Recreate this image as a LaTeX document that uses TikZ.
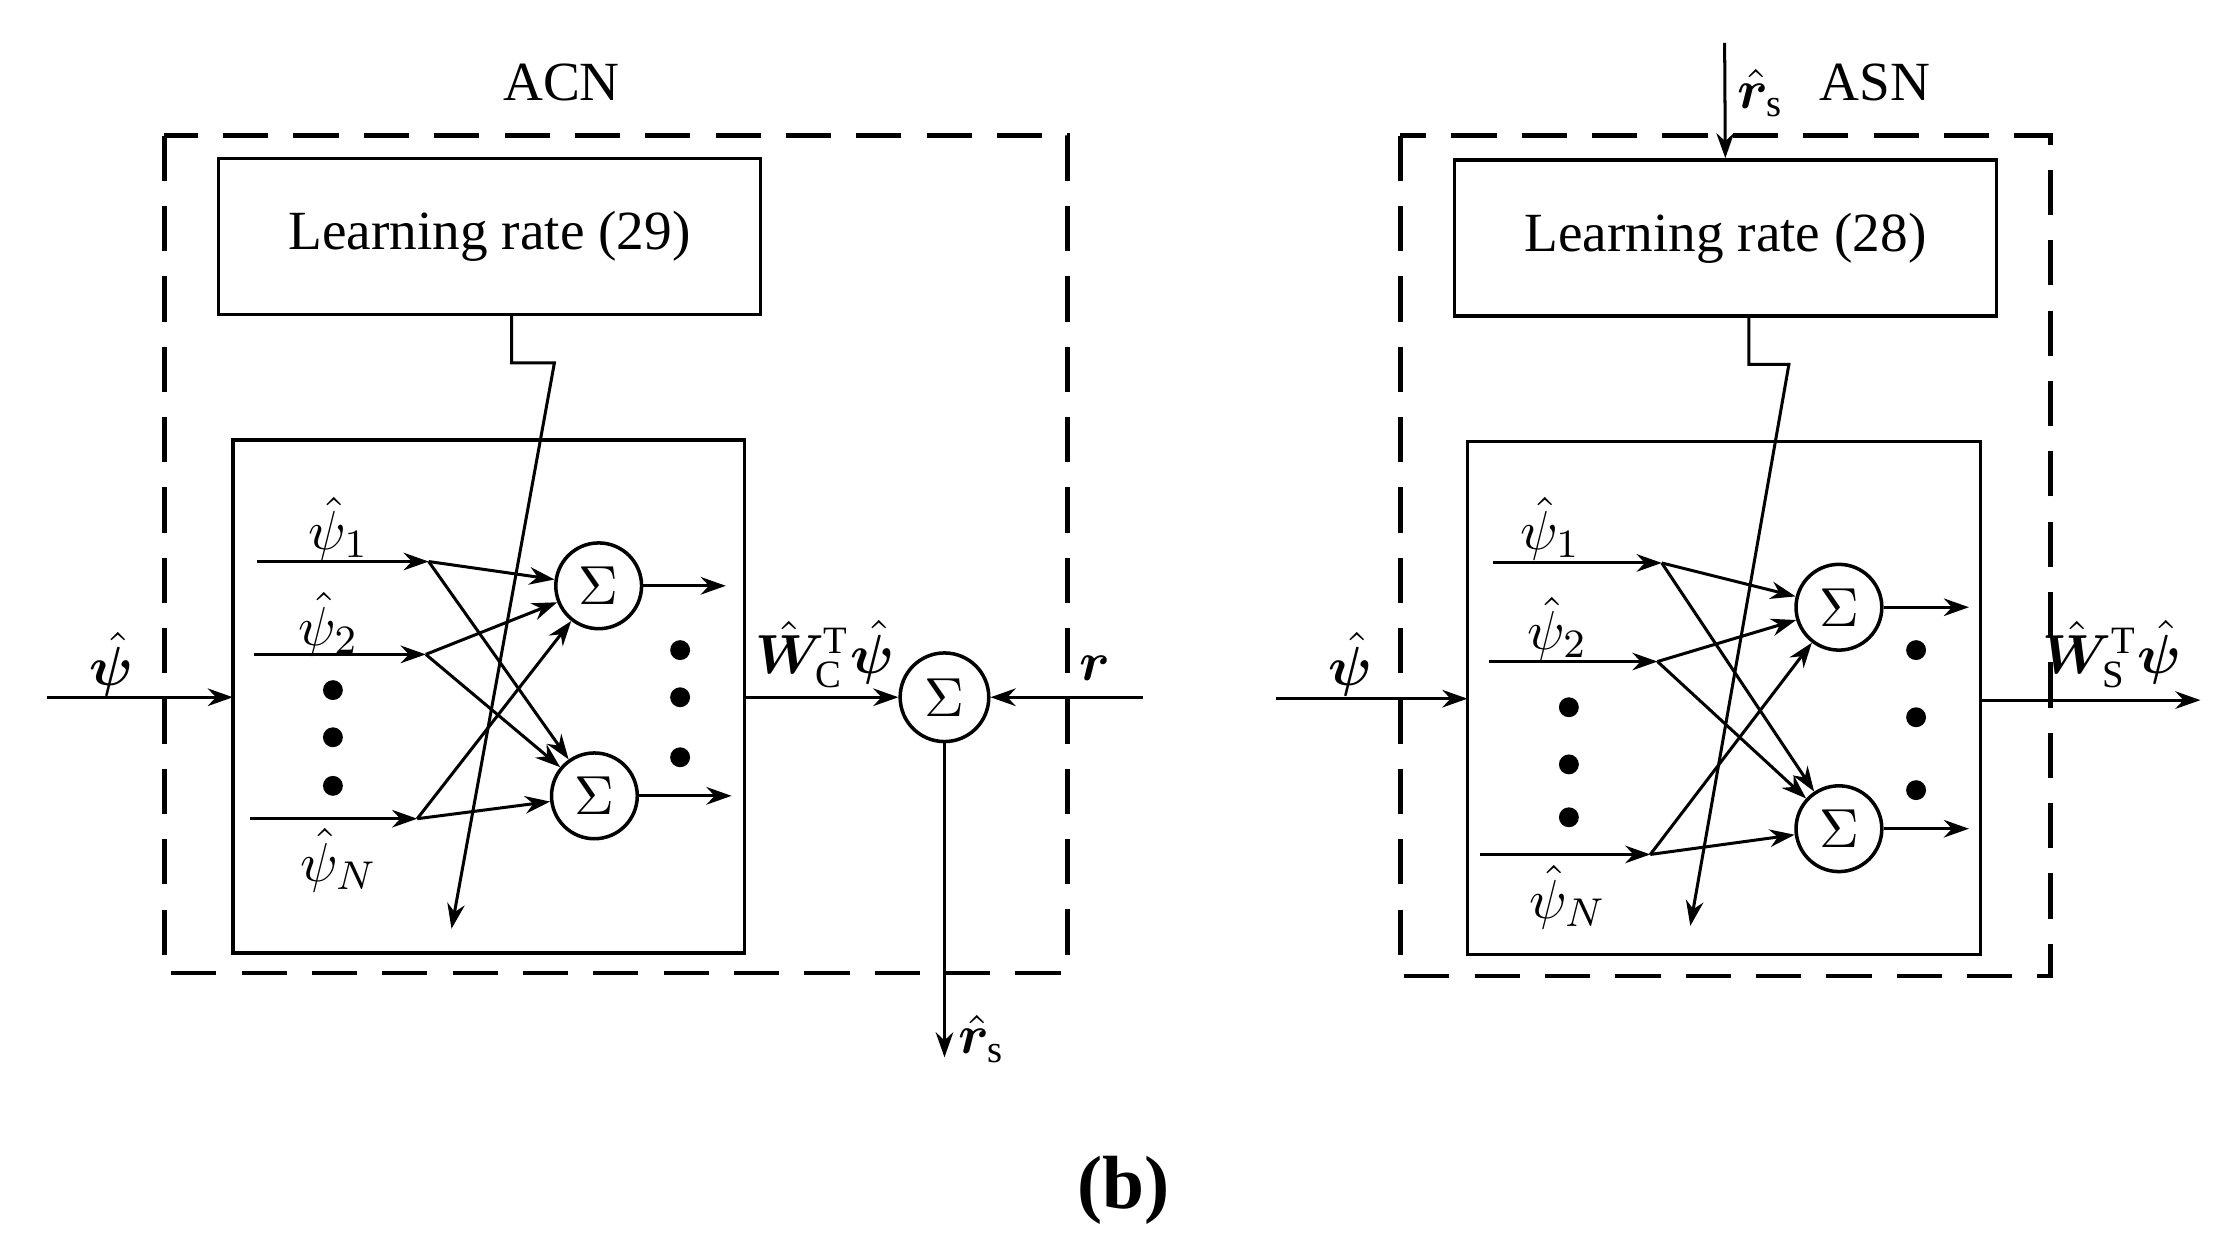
\documentclass[tikz,border=0pt]{standalone}
\usepackage{amsmath,bm}
\usepackage{fontspec}
\setmainfont{Liberation Serif}
\usetikzlibrary{arrows.meta}
\begin{document}
\begin{tikzpicture}[x=0.01cm,y=-0.01cm,font=\fontsize{11}{13}\selectfont,
 arr/.style={-{Stealth[length=5pt,width=3.5pt]},line width=0.6pt},
 ln/.style={line width=0.6pt},
 dbox/.style={line width=0.9pt,dash pattern=on 9pt off 5pt},
 box/.style={draw,line width=0.7pt},
 sig/.style={draw,circle,minimum size=0.6cm,inner sep=0pt,line width=0.7pt},
 dot/.style={circle,fill,inner sep=1.4pt}]
\useasboundingbox (0,0) rectangle (1560,868);
% ---------- Left (ACN)
\draw[dbox] (115,95) rectangle (747,681);
\node (acn) at (393,58) {ACN};
\node[box,minimum width=3.79cm,minimum height=1.09cm] (lr1) at (342.5,165.5) {Learning rate (29)};
\node[box,minimum width=3.58cm,minimum height=3.59cm] (in1) at (342,487.5) {};
\coordinate (pin1) at (33,488);
\draw[arr] (pin1) -- (163,488);
\node (pl1) at (78,465) {$\hat{\bm\psi}$};
\coordinate (a1) at (180,393); \coordinate (a1e) at (300,393);
\coordinate (a2) at (178,458); \coordinate (a2e) at (298,458);
\coordinate (a3) at (175,573); \coordinate (a3e) at (292,573);
\draw[arr] (a1) -- (a1e); \draw[arr] (a2) -- (a2e); \draw[arr] (a3) -- (a3e);
\node at (237,370) {$\hat\psi_1$};
\node at (230,437) {$\hat\psi_2$};
\node at (237,602) {$\hat\psi_N$};
\foreach \y in {483,516,550} \node[dot] at (233,\y) {};
\node[sig] (s1) at (419,410) {$\Sigma$};
\node[sig] (s2) at (416,557) {$\Sigma$};
\foreach \a in {a1e,a2e,a3e}{\draw[arr] (\a) -- (s1); \draw[arr] (\a) -- (s2);}
\coordinate (o1) at (508,410); \coordinate (o2) at (512,557);
\draw[arr] (s1) -- (o1); \draw[arr] (s2) -- (o2);
\foreach \y in {455,488,530} \node[dot] at (476,\y) {};
\node[sig,minimum size=0.62cm] (s3) at (661,488) {$\Sigma$};
\draw[arr] (521,488) -- (s3);
\node[inner sep=1pt] at (577,458) {$\hat{\bm W}_{\mathrm C}^{\mathrm T}\hat{\bm\psi}$};
\coordinate (r) at (800,488);
\draw[arr] (r) -- (s3);
\node at (766,468) {$\bm r$};
\coordinate (rs1) at (661,740);
\draw[arr] (s3) -- (rs1);
\node at (687,727) {$\hat{\bm r}_{\mathrm s}$};
\coordinate (l1) at (316,650);
\draw[arr] (358,220) -- (358,254) -- (388,254) -- (l1);
% ---------- Right (ASN)
\draw[dbox] (980,95) rectangle (1435,683);
\node (asn) at (1312,58) {ASN};
\node at (1232,65) {$\hat{\bm r}_{\mathrm s}$};
\node[box,minimum width=3.79cm,minimum height=1.09cm] (lr2) at (1207.5,166.5) {Learning rate (28)};
\coordinate (rtop) at (1207,30);
\draw[arr] (rtop) -- (lr2.north);
\node[box,minimum width=3.59cm,minimum height=3.59cm] (in2) at (1206.5,488.5) {};
\coordinate (pin2) at (893,489);
\draw[arr] (pin2) -- (1027,489);
\node at (945,465) {$\hat{\bm\psi}$};
\coordinate (b1) at (1045,394); \coordinate (b1e) at (1163,394);
\coordinate (b2) at (1042,463); \coordinate (b2e) at (1160,463);
\coordinate (b3) at (1036,598); \coordinate (b3e) at (1155,598);
\draw[arr] (b1) -- (b1e); \draw[arr] (b2) -- (b2e); \draw[arr] (b3) -- (b3e);
\node at (1085,370) {$\hat\psi_1$};
\node at (1090,440) {$\hat\psi_2$};
\node at (1097,628) {$\hat\psi_N$};
\foreach \y in {495,535,572} \node[dot] at (1098,\y) {};
\node[sig] (t1) at (1287,425) {$\Sigma$};
\node[sig] (t2) at (1287,580) {$\Sigma$};
\foreach \a in {b1e,b2e,b3e}{\draw[arr] (\a) -- (t1); \draw[arr] (\a) -- (t2);}
\coordinate (p1) at (1378,425); \coordinate (p2) at (1378,580);
\draw[arr] (t1) -- (p1); \draw[arr] (t2) -- (p2);
\foreach \y in {455,502,553} \node[dot] at (1341,\y) {};
\coordinate (out2) at (1540,490);
\draw[arr] (1386,490) -- (out2);
\node[inner sep=1pt] at (1478,458) {$\hat{\bm W}_{\mathrm S}^{\mathrm T}\hat{\bm\psi}$};
\coordinate (l2) at (1183,648);
\draw[arr] (1224,221) -- (1224,255) -- (1252,255) -- (l2);
\node[font=\fontsize{15}{17}\selectfont] (cap) at (786,833) {\textbf{(b)}};
\end{tikzpicture}
\end{document}
